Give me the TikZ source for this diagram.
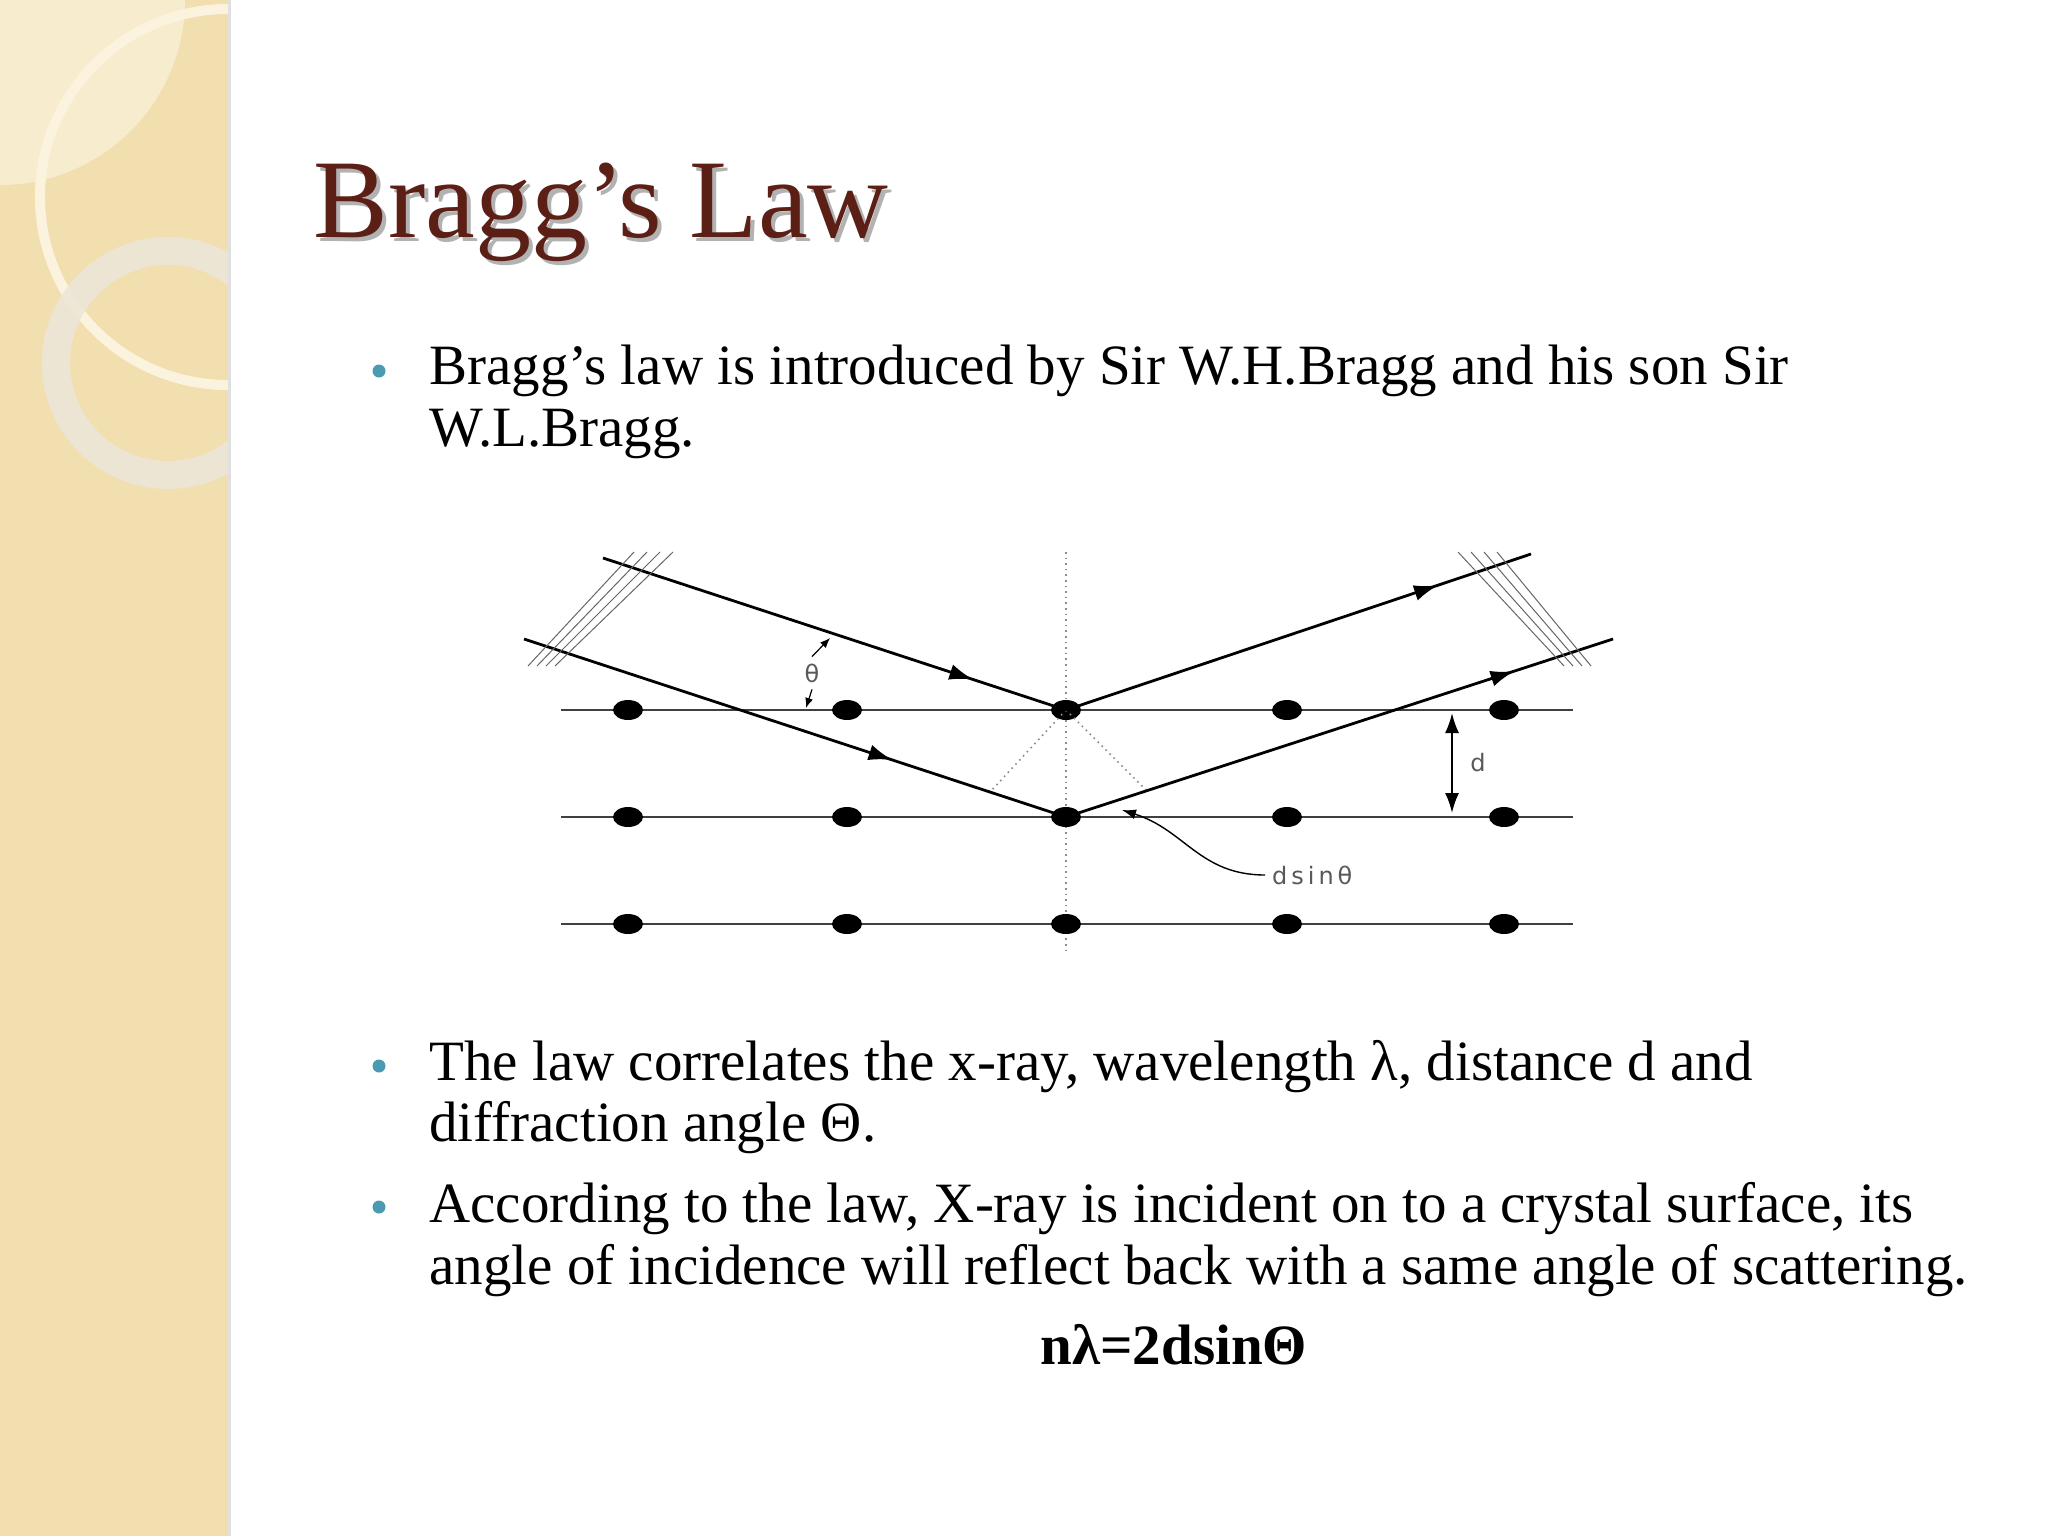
\documentclass[tikz,border=0pt]{standalone}
\usepackage{fontspec}
\setmainfont{Liberation Serif}
\newfontfamily\diagfont{DejaVu Sans}
\usetikzlibrary{decorations.markings,arrows.meta,shapes.geometric}
\definecolor{side}{HTML}{F2DFB0}
\definecolor{sidelight}{HTML}{F7ECCE}
\definecolor{ringA}{HTML}{FBF3DE}
\definecolor{ringB}{HTML}{ECE6D8}
\definecolor{titlecol}{HTML}{5C1F16}
\definecolor{bulletcol}{HTML}{4A9AB2}
\tikzset{
  ray/.style={line width=1.4pt},
  lattice/.style={line width=0.7pt, black!75},
  wave/.style={line width=0.5pt, black!60},
  atom/.style={ellipse, fill=black, minimum width=15pt, minimum height=10pt, inner sep=0pt},
  dotl/.style={dotted, line width=0.8pt, black!45},
  body/.style={anchor=base west, font=\fontsize{28.5}{30}\selectfont, inner sep=0pt},
  bul/.style={circle, fill=bulletcol, minimum size=6.5pt, inner sep=0pt},
  dlab/.style={font=\diagfont\fontsize{12}{12}\selectfont, text=black!65},
  midarrow/.style={postaction={decorate, decoration={markings, mark=at position #1 with {\arrow{Latex[length=12pt,width=8pt]}}}}}
}
\begin{document}
\begin{tikzpicture}[x=0.5pt,y=-0.5pt]
\useasboundingbox (0,0) rectangle (2048,1536);
\fill[white] (0,0) rectangle (2048,1536);
% sidebar
\begin{scope}
\clip (0,0) rectangle (228,1536);
\fill[side] (0,0) rectangle (228,1536);
\fill[sidelight] (0,0) circle (185);
\draw[ringA, line width=5pt] (228,197) circle (188);
\draw[ringB, line width=14pt, opacity=0.9] (168,363) circle (112);
\end{scope}
\fill[black!12] (228,0) rectangle (231,1536);
% title
\node[anchor=base west, inner sep=0pt, text=black!30, font=\fontsize{56}{56}\selectfont] at (317,241) {Bragg’s Law};
\node[anchor=base west, inner sep=0pt, text=titlecol, font=\fontsize{56}{56}\selectfont] (title) at (313,237) {Bragg’s Law};
% bullets
\node[bul] (b1) at (379,371) {};
\node[bul] (b2) at (379,1066) {};
\node[bul] (b3) at (379,1207) {};
\node[body] (t1) at (429,384) {Bragg’s law is introduced by Sir W.H.Bragg and his son Sir};
\node[body] (t2) at (429,446) {W.L.Bragg.};
\node[body] (t3) at (429,1080) {The law correlates the x-ray, wavelength λ, distance d and};
\node[body] (t4) at (429,1141) {diffraction angle Θ.};
\node[body] (t5) at (429,1222) {According to the law, X-ray is incident on to a crystal surface, its};
\node[body] (t6) at (429,1284) {angle of incidence will reflect back with a same angle of scattering.};
\node[anchor=base, inner sep=0pt, font=\bfseries\fontsize{28.5}{30}\selectfont] (eq) at (1174,1364) {nλ=2dsinΘ};
% diagram
\draw[dotl] (1066,552) -- (1066,953);
\foreach \y/\r in {710/1,817/2,924/3}{
  \draw[lattice] (561,\y) -- (1573,\y);
  \foreach \x/\c in {628/1,847/2,1066/3,1287/4,1504/5}{
    \node[atom] (a\r\c) at (\x,\y) {};
  }
}
\draw[dotl] (a13.center) -- (990,792);
\draw[dotl] (a13.center) -- (1148,792);
\coordinate (i1) at (603,558);
\coordinate (i2) at (524,639);
\coordinate (o1) at (1531,554);
\coordinate (o2) at (1613,639);
\draw[ray, midarrow=0.8] (i1) -- (a13.center);
\draw[ray, midarrow=0.68] (i2) -- (a23.center);
\draw[ray, midarrow=0.8] (a13.center) -- (o1);
\draw[ray, midarrow=0.82] (a23.center) -- (o2);
\foreach \k in {0,1,2,3}{
  \draw[wave] (528+9*\k,666) -- (634+13*\k,552);
  \draw[wave] (1458+13*\k,552) -- (1564+9*\k,666);
}
% d
\draw[line width=1pt, {Latex[length=10pt,width=7pt]}-{Latex[length=10pt,width=7pt]}] (1452,713) -- (1452,813);
\node[dlab] (dl) at (1478,763) {d};
% theta
\node[dlab] (th) at (812,673) {θ};
\draw[line width=0.6pt, -{Latex[length=5pt,width=4pt]}] (th.north) -- (830,638);
\draw[line width=0.6pt, -{Latex[length=5pt,width=4pt]}] (th.south) -- (806,708);
% dsin
\node[dlab, anchor=west] (ds) at (1265,875) {d\,s\,i\,n\,θ};
\draw[line width=0.7pt, -{Latex[length=7pt,width=5pt]}] (ds.west) .. controls (1200,875) and (1185,830) .. (1122,810);
\end{tikzpicture}
\end{document}
